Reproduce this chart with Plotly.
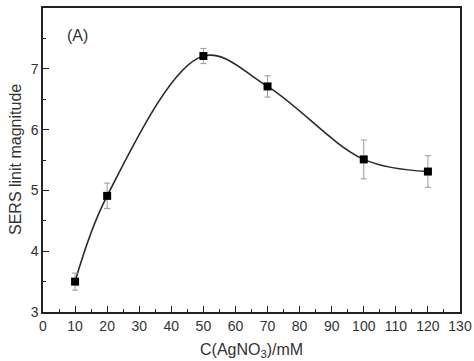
import plotly.graph_objects as go

conc = [10, 20, 50, 70, 100, 120]
sers = [3.50, 4.91, 7.21, 6.71, 5.51, 5.31]
err = [0.14, 0.21, 0.125, 0.175, 0.32, 0.26]
x_ticks = list(range(0, 140, 10))
y_ticks = [3, 4, 5, 6, 7, 8]

fig = go.Figure()
fig.add_trace(go.Scatter(
    x=conc, y=sers, mode="lines",
    line=dict(color="#2a2a2a", width=1.6, shape="spline", smoothing=1.0),
    hoverinfo="skip", showlegend=False))
fig.add_trace(go.Scatter(
    x=conc, y=sers, mode="markers",
    marker=dict(symbol="square", size=8, color="black"),
    error_y=dict(type="data", array=err, color="#999999", thickness=1, width=3),
    showlegend=False))

font = dict(family="Liberation Sans, Arial, sans-serif", size=14, color="#333333")
big = dict(family="Liberation Sans, Arial, sans-serif", size=16, color="#333333")
axis_common = dict(ticks="inside", ticklen=6, tickwidth=1.2, tickcolor="#222",
                   showline=True, linecolor="#222", linewidth=1.5, mirror=True,
                   showgrid=False, zeroline=False, automargin=False, tickfont=font)
fig.update_layout(
    width=474, height=361,
    margin=dict(l=43, r=14, t=8, b=49),
    paper_bgcolor="white", plot_bgcolor="white",
    font=font,
    xaxis=dict(range=[0, 130], tickvals=x_ticks,
               minor=dict(dtick=5, ticks="inside", ticklen=3, tickcolor="#222"),
               **axis_common),
    yaxis=dict(range=[3, 8], tickvals=y_ticks,
               minor=dict(dtick=0.5, ticks="inside", ticklen=3, tickcolor="#222"),
               **axis_common),
    annotations=[
        dict(x=10.6, y=7.54, xref="x", yref="y", text="(A)",
             showarrow=False, font=big),
        dict(x=0.5, y=0, xref="paper", yref="paper", yanchor="middle",
             yshift=-38, text="C(AgNO<sub>3</sub>)/mM", showarrow=False, font=big),
        dict(x=0, y=0.5, xref="paper", yref="paper", xanchor="center",
             xshift=-28, textangle=-90, text="SERS linit magnitude",
             showarrow=False, font=big),
    ],
)
fig.write_html("out.html", config={"displayModeBar": False},
               post_script="document.body.style.margin='0';document.body.style.overflow='hidden';")
